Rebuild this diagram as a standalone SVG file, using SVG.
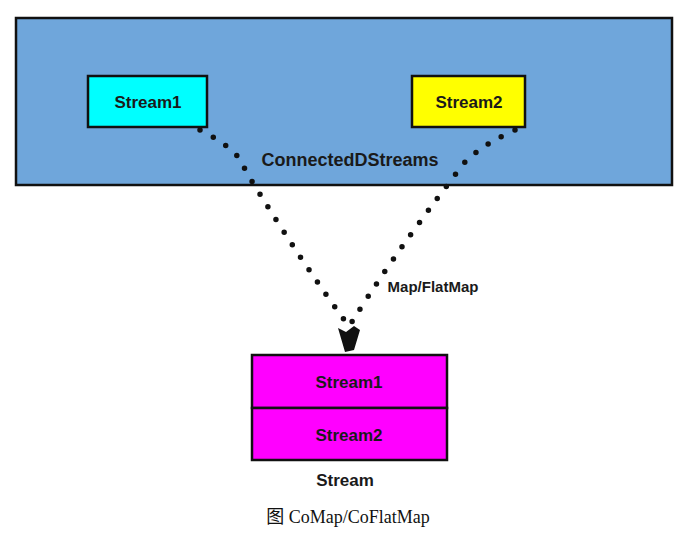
<svg xmlns="http://www.w3.org/2000/svg" width="696" height="542" viewBox="0 0 696 542">
<style>
.t{font-family:"Comic Sans MS","Liberation Sans",sans-serif;font-weight:bold;fill:#1a1a1a;text-anchor:middle}
.b{stroke:#111;stroke-width:2.5}
.d{fill:none;stroke:#111;stroke-width:5.5;stroke-linecap:round;stroke-dasharray:0 15}
</style>
<rect width="696" height="542" fill="#fff"/>
<g id="container"><rect x="16" y="18" width="656" height="167" fill="#6fa6db" class="b"/></g>
<g id="stream1"><rect x="88" y="76" width="119" height="51" fill="#00ffff" class="b"/><text x="148" y="108" class="t" font-size="17">Stream1</text></g>
<g id="stream2"><rect x="412" y="76" width="113" height="51" fill="#ffff00" class="b"/><text x="469" y="108" class="t" font-size="17">Stream2</text></g>
<g id="connectors">
<path class="d" d="M200,130 Q240,150 245,170 Q300,260 348,325"/>
<path class="d" d="M515,130 Q470,150 455,175 Q390,260 350,325"/>
<path d="M338,328 L346,332 L354,326 L360,330 L354,350 L345,352 Z" fill="#111"/>
</g>
<text x="350" y="166" class="t" font-size="18" font-weight="normal">ConnectedDStreams</text>
<text x="433" y="292" class="t" font-size="15">Map/FlatMap</text>
<g id="out1"><rect x="252" y="355" width="195" height="53" fill="#ff00ff" class="b"/><text x="349" y="388" class="t" font-size="17">Stream1</text></g>
<g id="out2"><rect x="252" y="408" width="195" height="52" fill="#ff00ff" class="b"/><text x="349" y="441" class="t" font-size="17">Stream2</text></g>
<text x="345" y="486" class="t" font-size="17">Stream</text>
<text x="348" y="523" font-family="'Liberation Serif','Noto Sans CJK SC',serif" font-size="18" text-anchor="middle" fill="#111">图 CoMap/CoFlatMap</text>
</svg>
